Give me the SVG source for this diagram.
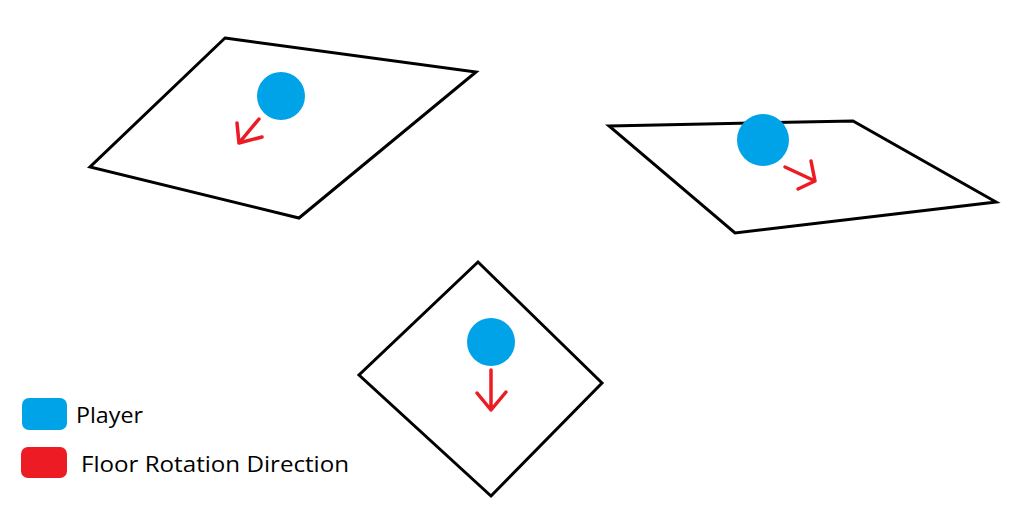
<svg xmlns="http://www.w3.org/2000/svg" width="1024" height="520" viewBox="0 0 1024 520">
<style>
.floor{fill:none;stroke:#000;stroke-width:3;stroke-linejoin:miter}
.player{fill:#00a2e8}
.dir{fill:none;stroke:#ed1c24;stroke-width:3.5;stroke-linecap:round;stroke-linejoin:round}
.lbl{font-family:"Open Sans","Liberation Sans",Arial,sans-serif;font-size:21px;fill:#000}
</style>
<rect width="1024" height="520" fill="#fff"/>
<g id="floor1">
<polygon class="floor" points="225,38 476,72 299,218 90,167"/>
<circle class="player" cx="281" cy="96" r="24"/>
<path class="dir" d="M259,119 L239,143 M237,123 L239,143 L262,137"/>
</g>
<g id="floor2">
<polygon class="floor" points="609,126 853,121 996,202 735,233"/>
<circle class="player" cx="763" cy="140" r="26"/>
<path class="dir" d="M785,167 L815,181 M811,161 L815,181 L798,189"/>
</g>
<g id="floor3">
<polygon class="floor" points="478,262 602,383 491,496 359,375"/>
<circle class="player" cx="491" cy="342" r="24"/>
<path class="dir" d="M491,370 L491,410 M477,393 L491,410 L506,392"/>
</g>
<g id="legend">
<rect x="22" y="398" width="45" height="32" rx="7" fill="#00a2e8"/>
<rect x="21" y="447" width="46" height="31" rx="7" fill="#ed1c24"/>
<text class="lbl" x="76" y="423" textLength="67" lengthAdjust="spacingAndGlyphs">Player</text>
<text class="lbl" x="81" y="472" textLength="268" lengthAdjust="spacingAndGlyphs">Floor Rotation Direction</text>
</g>
<g id="connectors"></g>
</svg>
